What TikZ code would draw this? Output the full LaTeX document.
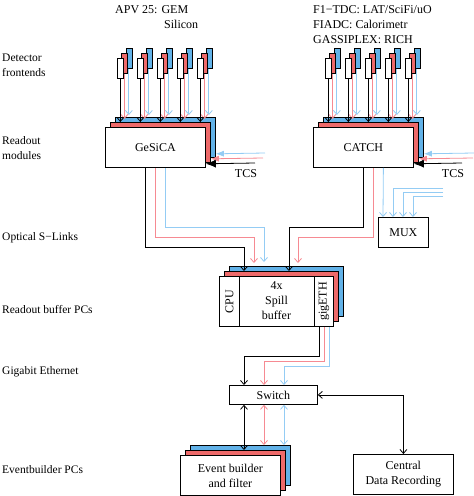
\documentclass[tikz,border=0pt]{standalone}
\usepackage{fontspec}
\setmainfont{Liberation Serif}
\usetikzlibrary{arrows.meta}

\definecolor{layerred}{RGB}{238,106,106}
\definecolor{layerblue}{RGB}{98,178,232}
\definecolor{linkred}{RGB}{246,138,146}
\definecolor{linkblue}{RGB}{148,204,244}

% three boards stacked: blue behind red behind white
\newcommand{\stackbox}[6]{%
  \node[board, fill=layerblue, minimum width=#4pt, minimum height=#5pt] (#1-b) at ({#2+10},{#3-10}) {};
  \node[board, fill=layerred, minimum width=#4pt, minimum height=#5pt] (#1-r) at ({#2+5},{#3-5}) {};
  \node[board, minimum width=#4pt, minimum height=#5pt] (#1) at (#2,#3) {#6};}

\begin{document}
\begin{tikzpicture}[x=1pt, y=-1pt, >={Straight Barb[length=4pt,width=7pt]},
  board/.style={draw, line width=0.8pt, fill=white, anchor=north west, inner sep=0pt,
    align=center, font=\fontsize{12}{15}\selectfont},
  fe/.style={draw, line width=0.7pt, anchor=north west, inner sep=0pt,
    minimum width=6pt, minimum height=20pt},
  link/.style={line width=0.8pt, ->},
  redlink/.style={link, linkred},
  bluelink/.style={link, linkblue},
  tcs/.style={line width=0.8pt, -{Latex[length=8pt,width=6pt]}},
  rowlabel/.style={anchor=west, align=left, inner sep=2pt, font=\fontsize{11.5}{15}\selectfont},
  headline/.style={anchor=north west, align=left, inner sep=0pt, font=\fontsize{12}{15}\selectfont}]
\useasboundingbox (0,0) rectangle (474,496);

% row labels
\node[rowlabel] (l-fe) at (0,65) {Detector\\frontends};
\node[rowlabel] (l-ro) at (0,148) {Readout\\modules};
\node[rowlabel] (l-sl) at (0,238) {Optical S−Links};
\node[rowlabel] (l-pc) at (0,310) {Readout buffer PCs};
\node[rowlabel] (l-ge) at (0,372) {Gigabit Ethernet};
\node[rowlabel] (l-eb) at (0,470) {Eventbuilder PCs};

% detectors
\node[headline] (apv) at (115,5) {APV 25: GEM};
\node[headline] (sil) at (164,20) {Silicon};
\node[headline] (f1) at (313,5) {F1−TDC: LAT/SciFi/uO\\FIADC: Calorimetr\\GASSIPLEX: RICH};

% readout modules
\stackbox{ges}{105}{127}{100}{40}{GeSiCA}
\stackbox{catch}{313}{127}{100}{40}{CATCH}

% frontends
\foreach \g/\x in {ges/116, catch/324}
  \foreach \i in {0,...,4} {
    \node[fe, fill=layerblue] (\g-fb\i) at ({\x+20*\i+9.5},48) {};
    \node[fe, fill=layerred] (\g-fr\i) at ({\x+20*\i+5},53) {};
    \node[fe, fill=white] (\g-fw\i) at ({\x+20*\i+1},58) {};
    \draw[bluelink, shorten >=2pt] (\g-fb\i) -- (\g-fb\i |- \g-b.north);
    \draw[redlink, shorten >=3pt] (\g-fr\i) -- (\g-fr\i |- \g-r.north);
    \draw[link] (\g-fw\i) -- (\g-fw\i |- \g-r.north);
  }

% trigger control
\coordinate (tcs-gk) at (255,163);
\coordinate (tcs-gr) at (263,158);
\coordinate (tcs-gb) at (265,153);
\coordinate (tcs-ck) at (462,163);
\coordinate (tcs-cr) at (473,158);
\coordinate (tcs-cb) at (474,153);
\draw[tcs, linkblue] (tcs-gb) -- ([yshift=4pt]ges-b.south east);
\draw[tcs, linkred] (tcs-gr) -- ([yshift=4pt]ges-r.south east);
\draw[tcs, -{Latex[length=10pt,width=8pt]}] (tcs-gk) -- ([yshift=4pt]ges.south east);
\draw[tcs, linkblue] (tcs-cb) -- ([yshift=4pt]catch-b.south east);
\draw[tcs, linkred] (tcs-cr) -- ([yshift=4pt]catch-r.south east);
\draw[tcs, -{Latex[length=10pt,width=8pt]}] (tcs-ck) -- ([yshift=4pt]catch.south east);
\node (tcs-g) at (246,174) {\fontsize{12}{14}\selectfont TCS};
\node (tcs-c) at (453,174) {\fontsize{12}{14}\selectfont TCS};

% readout buffer
\stackbox{buf}{219}{276}{114}{50}{}
\node[board, minimum width=20pt, minimum height=50pt] (cpu) at (219,276) {};
\node[board, minimum width=19pt, minimum height=50pt] (gig) at (314,276) {};
\node[rotate=90, font=\fontsize{12}{14}\selectfont] (cpu-t) at (cpu.center) {CPU};
\node[rotate=90, font=\fontsize{12}{14}\selectfont] (gig-t) at (gig.center) {gigETH};
\node[align=center, font=\fontsize{12}{15}\selectfont] (spill) at (276.5,301) {4x\\Spill\\buffer};

% MUX
\node[board, minimum width=50pt, minimum height=30pt] (mux) at (378,217) {MUX};

% optical links GeSiCA
\draw[bluelink] ([xshift=10pt]ges.south) -- ++(0,60) -| ([xshift=40pt,yshift=9pt]buf-r.north west);
\draw[redlink] (ges.south) -- ++(0,70) -| ([xshift=30pt,yshift=8pt]buf-r.north west);
\draw[link] ([xshift=-10pt]ges.south) -- ++(0,80) -| ([xshift=20pt]buf-r.north west);

% optical links CATCH
\draw[bluelink] ([xshift=20pt]catch.south) -- ([xshift=5pt]mux.north west);
\foreach \k in {1,2,3} {
  \coordinate (mux-in\k) at (443,{184+4*\k});
  \draw[bluelink] (mux-in\k) -| ([xshift={5+10*\k}]mux.north west);
}
\draw[redlink] ([xshift=10pt]catch.south) -- ++(0,70) -| ([xshift=74pt,yshift=8pt]buf-r.north west);
\draw[link] (catch.south) -- ++(0,60) -| ([xshift=65pt]buf-r.north west);

% switch
\node[board, minimum width=88pt, minimum height=19pt] (switch) at (229,385) {Switch};
\draw[bluelink] ([xshift=5pt]gig.south) -- ++(0,40) -| ([xshift=55pt]switch.north west);
\draw[redlink] (gig.south) -- ++(0,35) -| ([xshift=35pt]switch.north west);
\draw[link] ([xshift=-5pt]gig.south) -- ++(0,30) -| ([xshift=15pt]switch.north west);

% event builder and recording
\stackbox{evb}{180}{455}{100}{40}{Event builder\\and filter}
\node[board, minimum width=100pt, minimum height=40pt] (cdr) at (353,454) {Central\\Data Recording};
\draw[link, <->] ([xshift=15pt]switch.south west) -- ([xshift=59pt]evb-r.north west);
\draw[redlink, <->] ([xshift=35pt]switch.south west) -- ([xshift=74pt]evb-b.north west);
\draw[bluelink, <->] ([xshift=55pt]switch.south west) -- ([xshift=94pt]evb-b.north west);
\draw[link, <->] (switch.east) -| (cdr.north);

\end{tikzpicture}
\end{document}
